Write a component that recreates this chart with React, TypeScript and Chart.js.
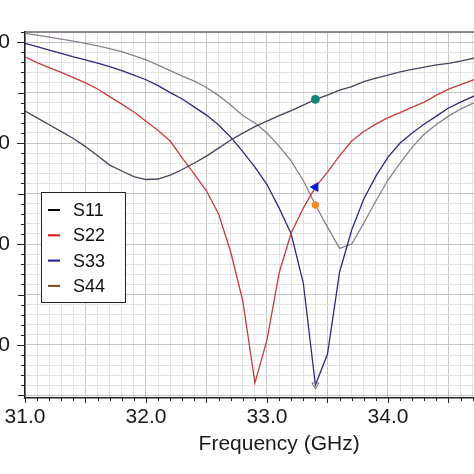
import { useEffect, useRef } from 'react';
import { Chart, registerables } from 'chart.js';

Chart.register(...registerables);

const frequencies = [
  31.0, 31.1, 31.2, 31.3, 31.4, 31.5, 31.6, 31.7, 31.8, 31.9,
  32.0, 32.1, 32.2, 32.3, 32.4, 32.5, 32.6, 32.7, 32.8, 32.9,
  33.0, 33.1, 33.2, 33.3, 33.4, 33.5, 33.6, 33.7, 33.8, 33.9,
  34.0, 34.1, 34.2, 34.3, 34.4, 34.5, 34.6, 34.7, 34.8, 34.9,
  35.0,
];

const s11 = [
  -16.83, -17.5, -18.19, -18.87, -19.55, -20.35, -21.25, -22.18, -22.77, -23.32,
  -23.61, -23.56, -23.17, -22.62, -21.98, -21.29, -20.5, -19.7, -19.01, -18.37,
  -17.82, -17.28, -16.78, -16.24, -15.67, -15.25, -14.75, -14.41, -13.91, -13.56,
  -13.27, -12.95, -12.7, -12.48, -12.26, -12.1, -11.88, -11.62, -11.44, -11.27,
  -11.12,
];

const s22 = [
  -11.46, -12.03, -12.52, -12.99, -13.51, -14.04, -14.65, -15.4, -16.14, -16.93,
  -17.84, -18.76, -19.8, -21.49, -23.07, -24.75, -27.03, -30.79, -35.64, -43.76,
  -39.5, -32.87, -28.91, -26.44, -24.36, -22.87, -21.24, -19.8, -18.86, -18.12,
  -17.48, -16.98, -16.44, -15.94, -15.25, -14.65, -14.21, -13.76, -13.42, -13.12,
  -12.87,
];

const s33 = [
  -10.13, -10.45, -10.79, -11.12, -11.47, -11.75, -12.08, -12.44, -12.82, -13.27,
  -13.73, -14.31, -15.0, -15.64, -16.44, -17.23, -18.22, -19.41, -20.84, -22.38,
  -24.11, -26.44, -29.01, -33.86, -43.96, -40.89, -32.77, -28.61, -25.54, -23.27,
  -21.39, -20.0, -19.01, -18.12, -17.33, -16.53, -15.94, -15.4, -14.95, -14.55,
  -14.26,
];

const s44 = [
  -9.14, -9.31, -9.5, -9.7, -9.9, -10.12, -10.38, -10.64, -10.94, -11.34,
  -11.75, -12.28, -12.82, -13.37, -13.86, -14.5, -15.3, -16.24, -17.28, -18.02,
  -19.01, -20.3, -21.78, -23.71, -26.14, -28.32, -30.43, -30.0, -27.92, -25.74,
  -23.66, -21.98, -20.4, -19.11, -18.17, -17.33, -16.63, -16.07, -15.59, -15.15,
  -14.8,
];

const seriesLabels = ['S11', 'S22', 'S33', 'S44'];
const legendColors = ['#000000', '#e01010', '#1a1a9a', '#7a4a1e'];
const lineColors = ['#4d3f5f', '#c83c3c', '#2b2b7f', '#8c7d8f'];

const MARKER_FREQ = 33.4;
const X_MIN = 31.0;
const X_MAX = 35.2;
const Y_MIN = -45.25;
const Y_MAX = -9.0;
const X_TITLE = 'Frequency (GHz)';

const FONT = 'Arial, "Liberation Sans", sans-serif';

type MarkerStyle = {
  style: string;
  radius: number;
  rotation: number;
  fill: string;
  stroke: string;
  width: number;
};

const markers: MarkerStyle[] = [
  { style: 'circle', radius: 4, rotation: 0, fill: '#138378', stroke: '#138378', width: 1 },
  { style: 'triangle', radius: 5, rotation: -90, fill: '#0a1ac8', stroke: '#0a1ac8', width: 1 },
  { style: 'triangle', radius: 4, rotation: 180, fill: 'rgba(0,0,0,0)', stroke: '#7a6a80', width: 1 },
  { style: 'circle', radius: 3.3, rotation: 0, fill: '#f08a2a', stroke: '#f08a2a', width: 1 },
];

const isMult = (v: number, step: number) => {
  const k = v / step;
  return Math.abs(k - Math.round(k)) < 1e-6;
};

const frameAndTicks = {
  id: 'frameAndTicks',
  afterDraw(chart: any) {
    const { ctx, chartArea, scales } = chart;
    const xs = scales.x;
    const ys = scales.y;
    ctx.save();
    // top frame line
    ctx.strokeStyle = '#666666';
    ctx.lineWidth = 1.5;
    ctx.beginPath();
    ctx.moveTo(chartArea.left, chartArea.top);
    ctx.lineTo(chartArea.right, chartArea.top);
    ctx.stroke();
    // tick marks
    ctx.strokeStyle = '#222222';
    ctx.lineWidth = 1;
    xs.ticks.forEach((t: any) => {
      const px = Math.round(xs.getPixelForValue(t.value)) + 0.5;
      const len = isMult(t.value, 0.5) ? 5 : 3;
      ctx.beginPath();
      ctx.moveTo(px, chartArea.bottom);
      ctx.lineTo(px, chartArea.bottom + len);
      ctx.stroke();
    });
    ys.ticks.forEach((t: any) => {
      const py = Math.round(ys.getPixelForValue(t.value)) + 0.5;
      const len = isMult(t.value, 10) ? 8 : isMult(t.value, 5) ? 7 : 4;
      ctx.beginPath();
      ctx.moveTo(chartArea.left - len, py);
      ctx.lineTo(chartArea.left, py);
      ctx.stroke();
    });
    ctx.restore();
  },
};

const boxLegend = {
  id: 'boxLegend',
  afterDatasetsDraw(chart: any) {
    const { ctx, chartArea } = chart;
    const x0 = chartArea.left + 16;
    const y0 = chartArea.top + 160;
    const w = 84;
    const h = 110;
    ctx.save();
    ctx.fillStyle = '#ffffff';
    ctx.fillRect(x0, y0, w, h);
    ctx.strokeStyle = '#222222';
    ctx.lineWidth = 1;
    ctx.strokeRect(x0 + 0.5, y0 + 0.5, w, h);
    ctx.font = `18px ${FONT}`;
    ctx.textBaseline = 'middle';
    ctx.textAlign = 'left';
    chart.data.datasets.forEach((ds: any, i: number) => {
      const cy = y0 + 18 + i * 25.3;
      ctx.strokeStyle = legendColors[i];
      ctx.lineWidth = 2;
      ctx.beginPath();
      ctx.moveTo(x0 + 7, cy);
      ctx.lineTo(x0 + 19, cy);
      ctx.stroke();
      ctx.fillStyle = '#111111';
      ctx.fillText(ds.label, x0 + 32, cy + 1);
    });
    ctx.restore();
  },
};

export default function App() {
  const canvasRef = useRef<HTMLCanvasElement | null>(null);

  useEffect(() => {
    const canvas = canvasRef.current;
    if (!canvas) return;
    const series = [s11, s22, s33, s44];
    const markerIdx = frequencies.findIndex((f) => Math.abs(f - MARKER_FREQ) < 1e-6);

    const datasets = series.map((vals, i) => {
      const m = markers[i];
      return {
        label: seriesLabels[i],
        data: frequencies.map((f, k) => ({ x: f, y: vals[k] })),
        borderColor: lineColors[i],
        borderWidth: 1.3,
        tension: 0,
        fill: false,
        pointRadius: (c: any) => (c.dataIndex === markerIdx ? m.radius : 0),
        pointStyle: m.style,
        rotation: m.rotation,
        pointBackgroundColor: m.fill,
        pointBorderColor: m.stroke,
        pointBorderWidth: m.width,
        pointHoverRadius: 0,
      };
    });

    const chart = new Chart(canvas, {
      type: 'line',
      data: { datasets },
      options: {
        responsive: false,
        animation: false,
        devicePixelRatio: 1,
        layout: { padding: { left: 0, top: 32, right: 10.8, bottom: 0 } },
        plugins: {
          legend: { display: false },
          tooltip: { enabled: false },
        },
        scales: {
          x: {
            type: 'linear',
            min: X_MIN,
            max: X_MAX,
            afterFit: (s: any) => {
              s.height = 76;
            },
            ticks: {
              stepSize: 0.1,
              autoSkip: false,
              maxRotation: 0,
              padding: 7,
              color: '#1a1a1a',
              font: { size: 21, family: FONT },
              callback: (v: any) => {
                const n = Number(v);
                return isMult(n, 1) ? n.toFixed(1) : '';
              },
            },
            grid: {
              drawTicks: false,
              color: (c: any) => (c.tick && isMult(c.tick.value, 0.5) ? '#c6c6c6' : '#e3e3e3'),
              lineWidth: 1,
            },
            border: { display: true, color: '#222222', width: 1.5 },
            title: {
              display: true,
              text: X_TITLE,
              color: '#1a1a1a',
              font: { size: 21, family: FONT },
              padding: { top: 0, bottom: 17 },
            },
          },
          y: {
            type: 'linear',
            min: Y_MIN,
            max: Y_MAX,
            afterFit: (s: any) => {
              s.width = 65;
            },
            ticks: {
              stepSize: 1,
              includeBounds: false,
              autoSkip: false,
              padding: 15,
              color: '#1a1a1a',
              font: { size: 21, family: FONT },
              callback: (v: any) => {
                const n = Number(v);
                return isMult(n, 10) ? String(n) : '';
              },
            },
            grid: {
              drawTicks: false,
              color: (c: any) => (c.tick && isMult(c.tick.value, 5) ? '#c6c6c6' : '#e3e3e3'),
              lineWidth: 1,
            },
            border: { display: true, color: '#222222', width: 1.5 },
          },
        },
      },
      plugins: [frameAndTicks, boxLegend],
    });

    return () => {
      chart.destroy();
    };
  }, []);

  return (
    <div
      style={{
        position: 'fixed',
        left: 0,
        top: 0,
        width: 474,
        height: 474,
        overflow: 'hidden',
        background: '#ffffff',
      }}
    >
      <canvas
        ref={canvasRef}
        width={584}
        height={474}
        style={{ position: 'absolute', left: -40, top: 0, width: 584, height: 474 }}
      />
    </div>
  );
}
